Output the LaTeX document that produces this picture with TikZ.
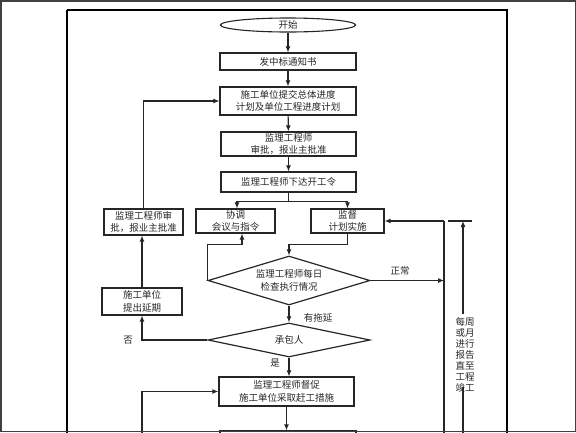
\documentclass[tikz,border=0pt]{standalone}
\usepackage{fontspec}
\setmainfont{Noto Sans CJK SC}
\usetikzlibrary{shapes.geometric,arrows.meta}
\begin{document}
\begin{tikzpicture}[x=1pt,y=-1pt,
  every node/.style={font=\fontsize{9.5pt}{12.5pt}\selectfont, text=black!85},
  box/.style={draw=black!85, line width=1.2pt, rectangle, inner sep=0pt, align=center},
  dia/.style={draw=black!85, line width=1.2pt, diamond, inner sep=0pt, align=center},
  conn/.style={draw=black!85, line width=1.1pt},
  arr/.style={conn, -{Latex[length=6pt,width=5pt]}},
  lbl/.style={inner sep=0pt}
]
\useasboundingbox (0,0) rectangle (576,432);
\begin{scope}
\clip (0,0) rectangle (576,432);
% outer frame
\draw[black, line width=2pt] (67,10) -- (507,10) -- (507,445) (67,10) -- (67,445);

\node[draw=black!85, line width=1.1pt, ellipse, minimum width=135pt, minimum height=14pt, inner sep=0pt] (start) at (288,25) {开始};
\node[box, minimum width=136pt, minimum height=17pt] (b1) at (288,61.5) {发中标通知书};
\node[box, minimum width=136pt, minimum height=28pt] (b2) at (288,101) {施工单位提交总体进度\\计划及单位工程进度计划};
\node[box, minimum width=135pt, minimum height=24pt] (b3) at (288.5,144) {监理工程师\\审批，报业主批准};
\node[box, minimum width=135pt, minimum height=20pt] (b4) at (288.5,182) {监理工程师下达开工令};
\node[box, minimum width=79pt, minimum height=24pt] (xt) at (235.5,221) {协调\\会议与指令};
\node[box, minimum width=73pt, minimum height=24pt] (jd) at (347.5,221) {监督\\计划实施};
\node[box, minimum width=79pt, minimum height=26pt] (sp) at (143.5,222) {监理工程师审\\批，报业主批准};
\node[dia, shape aspect=3.3, minimum width=162pt, minimum height=49pt] (d1) at (289,280.5) {监理工程师每日\\检查执行情况};
\node[dia, shape aspect=4.7, minimum width=162pt, minimum height=34pt] (d2) at (289,340) {承包人};
\node[box, minimum width=80pt, minimum height=27pt] (yq) at (142,301.5) {施工单位\\提出延期};
\node[box, minimum width=135pt, minimum height=29pt] (b5) at (286.5,391.5) {监理工程师督促\\施工单位采取赶工措施};
\node[box, minimum width=136pt, minimum height=30pt] (b6) at (288,446) {};

% labels
\node[lbl] (lzc) at (400,271) {正常};
\node[lbl] (ltyy) at (318,318) {有拖延};
\node[lbl] (lf) at (128,340) {否};
\node[lbl] (ls) at (275,363) {是};
\node[lbl, align=center, font=\fontsize{9.5pt}{11pt}\selectfont] (rep) at (465,355) {每周\\或月\\进行\\报告\\直至\\工程\\竣工};

% coordinates
\coordinate (rtop) at (444,221);
\coordinate (rbot) at (444,445);
\coordinate (capL) at (448,221);
\coordinate (capR) at (472,221);
\coordinate (captip) at (463,221);
\coordinate (repbot) at (463,445);
\coordinate (lbot) at (142,445);

% connectors
\draw[arr] (start) -- (b1);
\draw[arr] (b1) -- (b2);
\draw[arr] (b2) -- (b3);
\draw[arr] (b3) -- (b4);
\draw[arr] (b4.south) -- ++(0,9) -| ([xshift=1.5pt]xt.north);
\draw[arr] (b4.south) -- ++(0,9) -| (jd.north);
\draw[arr] (jd.south) -- ++(0,11) -| (d1.north);
\draw[arr] (d1.west) -- ++(0,-36) -| ([xshift=6.5pt]xt.south);
\draw[arr] (d1.east) -- (rtop |- d1.east);
\draw[conn] (rtop) -- (rbot);
\draw[arr] (rtop) -- (jd.east);
\draw[arr] (d1.south) -- (d2.north);
\draw[arr] (d2.west) -| (yq.south);
\draw[arr] (yq.north) -- (yq.north |- sp.south);
\draw[arr] (sp.north) |- (b2.west);
\draw[arr] (d2.south) -- (d2.south |- b5.north);
\draw[arr] (b5.south) -- (b5.south |- b6.north);
\draw[arr] (lbot) |- (b5.west);
\draw[conn] (capL) -- (capR);
\draw[arr] (rep.north -| captip) ++(0,-3) -- (captip);
\draw[conn] ([yshift=6pt]rep.south -| captip) -- (repbot);
\end{scope}
% image border
\draw[black!75, line width=1.5pt] (0.75,0.75) rectangle (575.25,431.25);
\end{tikzpicture}
\end{document}
